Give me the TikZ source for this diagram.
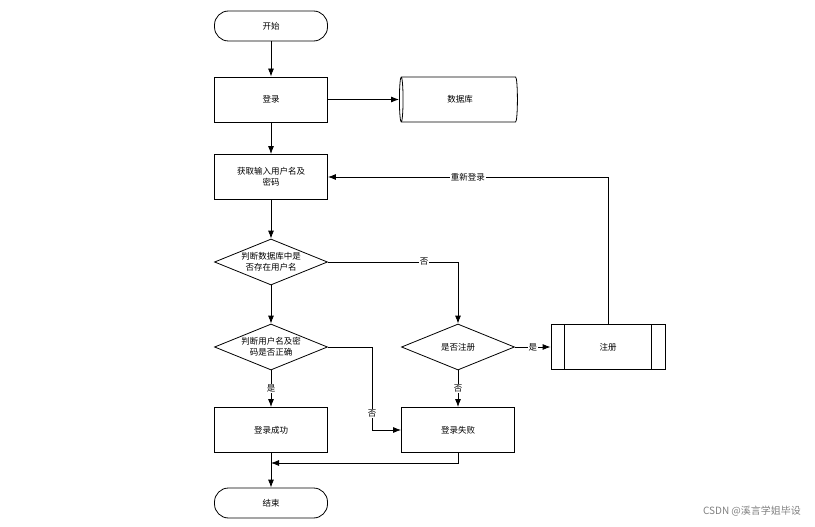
\documentclass[tikz,border=0pt]{standalone}
\usepackage{fontspec}
\setmainfont{Noto Sans CJK SC}
\usetikzlibrary{shapes.geometric,arrows.meta}
\begin{document}
\begin{tikzpicture}[x=1pt,y=-1pt,line width=0.8pt,
  every node/.style={font=\fontsize{8.5}{11}\selectfont},
  box/.style={draw,minimum width=113pt,minimum height=45pt,align=center,text width=100pt},
  term/.style={draw,rounded corners=14pt,minimum width=113pt,minimum height=30pt},
  dia/.style={draw,diamond,aspect=2.45,minimum width=113pt,minimum height=46pt,inner sep=0pt,align=center},
  arr/.style={-{Latex[length=8pt,width=6pt]}},
  lab/.style={fill=white,inner sep=1pt}]
\useasboundingbox (0,0) rectangle (815,527);
\node[term] (start) at (271,26) {开始};
\node[box] (login) at (271,99.5) {登录};
\node[draw,cylinder,shape border rotate=180,aspect=0.25,minimum width=45pt,minimum height=118pt] (db) at (460,99.5) {数据库};
\node[box] (get) at (271,177) {获取输入用户名及\\密码};
\node[dia] (d1) at (271,262) {判断数据库中是\\否存在用户名};
\node[dia] (d2) at (271,347) {判断用户名及密\\码是否正确};
\node[dia] (d3) at (458,347) {是否注册};
\node[box,minimum width=114pt] (reg) at (608,347) {注册};
\draw ([xshift=14pt]reg.north west) -- ([xshift=14pt]reg.south west);
\draw ([xshift=-14pt]reg.north east) -- ([xshift=-14pt]reg.south east);
\node[box] (ok) at (271,430) {登录成功};
\node[box] (fail) at (458,430) {登录失败};
\node[term] (end) at (271,503) {结束};
\coordinate (m) at (271,463);
\node[text=gray,font=\fontsize{10}{12}\selectfont] (wm) at (752,511) {CSDN @溪言学姐毕设};
\draw[arr] (start) -- (login);
\draw[arr] (login) -- (db);
\draw[arr] (login) -- (get);
\draw[arr] (get) -- (d1);
\draw[arr] (d1) -- (d2);
\draw[arr] (d1.east) -| node[lab,pos=0.37]{否} (d3.north);
\draw[arr] (d2) -- node[lab]{是} (ok);
\draw[arr] (d2.east) -- (372,347) |- node[lab,pos=0.4]{否} (fail.west);
\draw[arr] (d3) -- node[lab]{是} (reg);
\draw[arr] (d3) -- node[lab]{否} (fail);
\draw[arr] (reg.north) |- node[lab,pos=0.75]{重新登录} (get.east);
\draw[arr] (ok) -- (end);
\draw[arr] (fail.south) |- (m);
\end{tikzpicture}
\end{document}
